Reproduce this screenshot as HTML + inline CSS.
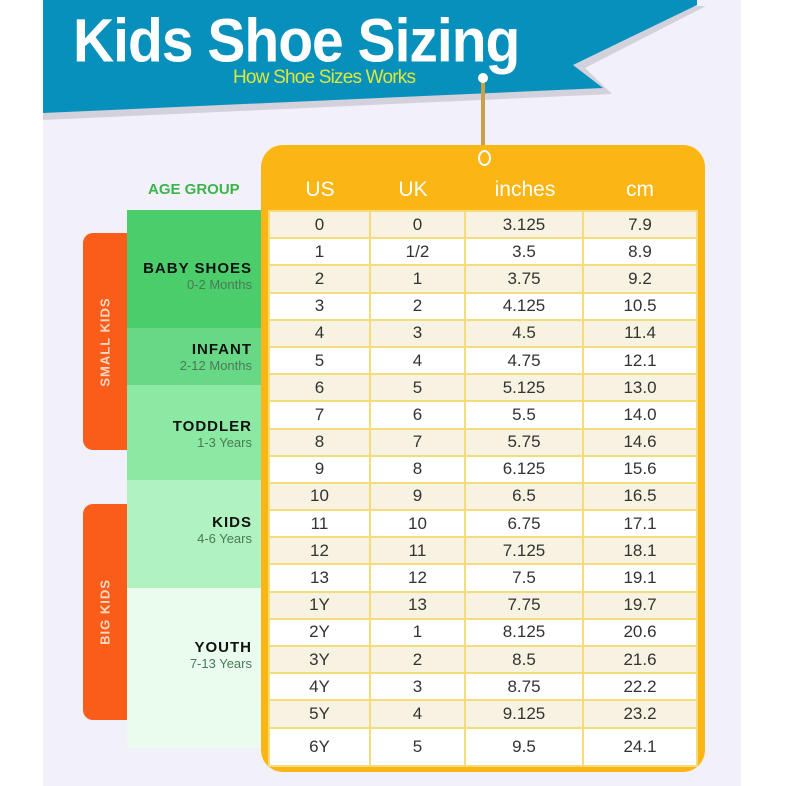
<!DOCTYPE html>
<html><head><meta charset="utf-8"><style>
body{margin:0;width:786px;height:786px;background:#fff;position:relative;overflow:hidden;font-family:"Liberation Sans",sans-serif}
.bg{position:absolute;left:43px;top:0;width:698px;height:786px;background:#f2f0f9}
.abs{position:absolute}
.hd{position:absolute;top:178px;color:#fff;font-size:21px;text-align:center;width:100px}
.g{position:absolute;left:127px;width:134px;text-align:right;box-sizing:border-box;padding-right:9px}
.g b{display:block;font-size:15px;letter-spacing:1px;color:#111}
.g span{display:block;font-size:13px;color:#4a7a57}
.tab{position:absolute;left:83px;width:44px;background:#fa5c1a;border-radius:10px 0 0 10px}
.tab span{position:absolute;left:50%;top:50%;transform:translate(-50%,-50%) rotate(-90deg);color:#ffd9c4;font-size:13px;font-weight:bold;letter-spacing:1px;white-space:nowrap}
table{position:absolute;left:268px;top:210px;width:430px;border-collapse:collapse;font-size:17px;color:#333}
td{border:2px solid #f4dc7a;height:25.2px;padding:0;text-align:center}
tr:nth-child(odd) td{background:#f7f2e1}
tr:nth-child(even) td{background:#fff}
</style></head><body>
<div class="bg"></div>
<svg class="abs" style="left:0;top:0" width="786" height="160">
<polygon points="43,6 706,6 585,68 612,94 43,120" fill="#d3d1dc"/>
<polygon points="43,0 697,0 697,5 573,65 603,88 43,113" fill="#0890bd"/>
<line x1="483" y1="80" x2="483" y2="152" stroke="#c9a04a" stroke-width="4"/>
<circle cx="483" cy="78" r="5" fill="#fff"/>
</svg>
<div class="abs" style="left:73px;top:6px;font-size:57px;font-weight:bold;color:#fff;letter-spacing:-1px;transform:scaleY(1.07);transform-origin:top left">Kids Shoe Sizing</div>
<div class="abs" style="left:233px;top:67px;font-size:19px;color:#dbe83a;letter-spacing:-0.8px">How Shoe Sizes Works</div>
<div class="abs" style="left:261px;top:145px;width:444px;height:627px;background:#fbb514;border-radius:22px"></div>
<div class="abs" style="left:478px;top:150px;width:9px;height:12px;border-radius:50%;border:2px solid #fff"></div>
<div class="hd" style="left:270px">US</div>
<div class="hd" style="left:363px">UK</div>
<div class="hd" style="left:475px">inches</div>
<div class="hd" style="left:590px">cm</div>
<div class="abs" style="left:148px;top:181px;font-size:15px;font-weight:bold;color:#3cb44a">AGE GROUP</div>
<div class="g" style="top:210px;height:118px;background:#4bcd6b"><div style="padding-top:50px"><b>BABY SHOES</b><span>0-2 Months</span></div></div>
<div class="g" style="top:328px;height:57px;background:#67d986"><div style="padding-top:13px"><b>INFANT</b><span>2-12 Months</span></div></div>
<div class="g" style="top:385px;height:95px;background:#8be9a3"><div style="padding-top:33px"><b>TODDLER</b><span>1-3 Years</span></div></div>
<div class="g" style="top:480px;height:108px;background:#b0f3c0"><div style="padding-top:34px"><b>KIDS</b><span>4-6 Years</span></div></div>
<div class="g" style="top:588px;height:160px;background:#e9fcee"><div style="padding-top:51px"><b>YOUTH</b><span>7-13 Years</span></div></div>
<div class="tab" style="top:233px;height:217px"><span>SMALL KIDS</span></div>
<div class="tab" style="top:504px;height:216px"><span>BIG KIDS</span></div>
<table>
<colgroup><col style="width:101px"><col style="width:95px"><col style="width:118px"><col></colgroup>
<tr><td>0</td><td>0</td><td>3.125</td><td>7.9</td></tr>
<tr><td>1</td><td>1/2</td><td>3.5</td><td>8.9</td></tr>
<tr><td>2</td><td>1</td><td>3.75</td><td>9.2</td></tr>
<tr><td>3</td><td>2</td><td>4.125</td><td>10.5</td></tr>
<tr><td>4</td><td>3</td><td>4.5</td><td>11.4</td></tr>
<tr><td>5</td><td>4</td><td>4.75</td><td>12.1</td></tr>
<tr><td>6</td><td>5</td><td>5.125</td><td>13.0</td></tr>
<tr><td>7</td><td>6</td><td>5.5</td><td>14.0</td></tr>
<tr><td>8</td><td>7</td><td>5.75</td><td>14.6</td></tr>
<tr><td>9</td><td>8</td><td>6.125</td><td>15.6</td></tr>
<tr><td>10</td><td>9</td><td>6.5</td><td>16.5</td></tr>
<tr><td>11</td><td>10</td><td>6.75</td><td>17.1</td></tr>
<tr><td>12</td><td>11</td><td>7.125</td><td>18.1</td></tr>
<tr><td>13</td><td>12</td><td>7.5</td><td>19.1</td></tr>
<tr><td>1Y</td><td>13</td><td>7.75</td><td>19.7</td></tr>
<tr><td>2Y</td><td>1</td><td>8.125</td><td>20.6</td></tr>
<tr><td>3Y</td><td>2</td><td>8.5</td><td>21.6</td></tr>
<tr><td>4Y</td><td>3</td><td>8.75</td><td>22.2</td></tr>
<tr><td>5Y</td><td>4</td><td>9.125</td><td>23.2</td></tr>
<tr><td style="height:36px">6Y</td><td>5</td><td>9.5</td><td>24.1</td></tr>
</table>
</body></html>
